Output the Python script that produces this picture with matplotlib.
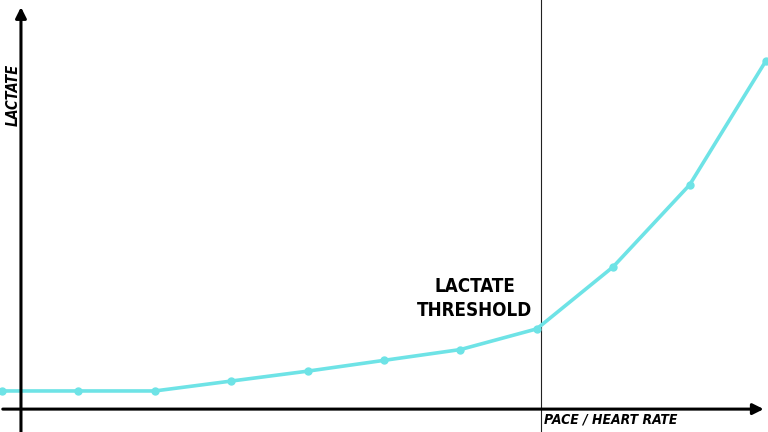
import matplotlib.pyplot as plt

# Lactate curve (effort steps vs lactate level)
effort = [0, 1, 2, 3, 4, 5, 6, 7, 8, 9, 10]
lactate = [1.0, 1.0, 1.0, 1.55, 2.1, 2.7, 3.3, 4.45, 7.9, 12.45, 19.35]
threshold_x = 7.05

line_color = '#6ee3e6'
hand_font = ['DejaVu Sans']

fig = plt.figure(figsize=(7.68, 4.32), dpi=100)
ax = fig.add_axes([0, 0, 1, 1])

ax.plot(effort, lactate, color=line_color, linewidth=2.6, marker='o',
        markersize=5, zorder=3)
ax.axvline(threshold_x, color='#222222', linewidth=0.8, zorder=2)

ax.set_xlim(-0.026, 10.026)
ax.set_ylim(-1.28, 22.72)
ax.axis('off')

# hand drawn style axes with arrows
ax.annotate('', xy=(0.0273, 0.99), xytext=(0.0273, -0.01), xycoords='axes fraction',
            arrowprops=dict(arrowstyle='-|>', color='black', lw=2.2, mutation_scale=16))
ax.annotate('', xy=(0.998, 0.053), xytext=(0.0, 0.053), xycoords='axes fraction',
            arrowprops=dict(arrowstyle='-|>', color='black', lw=2.2, mutation_scale=16))

ax.text(0.017, 0.78, 'LACTATE', transform=ax.transAxes, rotation=90,
        ha='center', va='center', fontsize=10.5, fontweight='bold',
        fontstyle='italic', fontstretch='condensed', family=hand_font)
ax.text(0.708, 0.028, 'PACE / HEART RATE', transform=ax.transAxes,
        ha='left', va='center', fontsize=10, fontweight='bold',
        fontstyle='italic', fontstretch='condensed', family=hand_font)
ax.text(0.618, 0.309, 'LACTATE\nTHRESHOLD', transform=ax.transAxes,
        ha='center', va='center', fontsize=13.5, fontweight='bold',
        linespacing=1.35, fontstretch='condensed', family=hand_font)

plt.savefig('out.png', dpi=100)
